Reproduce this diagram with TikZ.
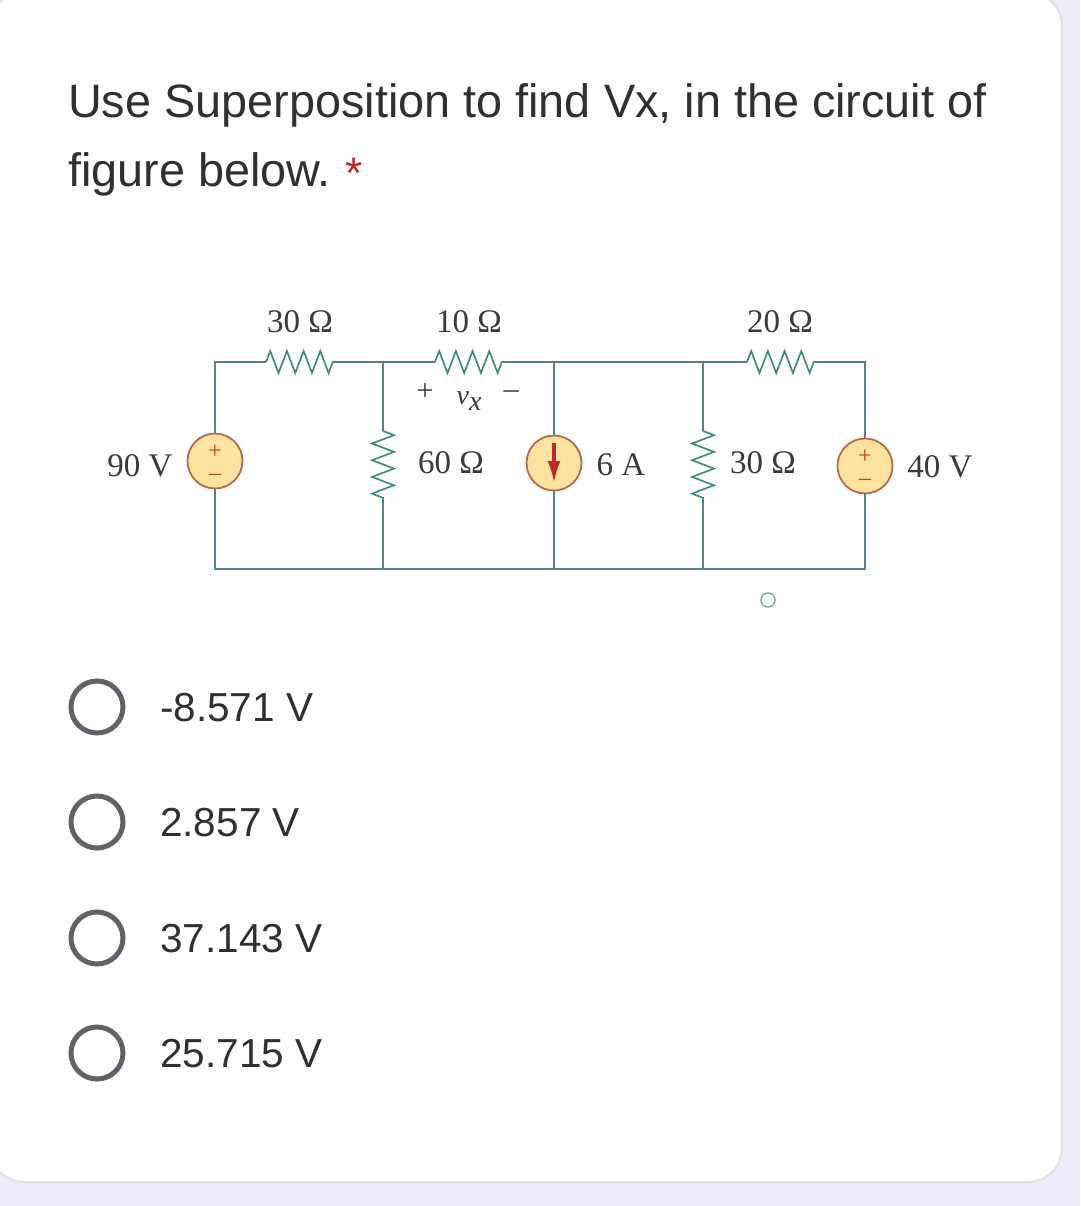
\documentclass[tikz,border=0pt]{standalone}
\usepackage{fontspec}
\setmainfont{Liberation Serif}
\newfontfamily\uifont{Liberation Sans}
\usetikzlibrary{arrows.meta,decorations.pathmorphing}
\definecolor{pagebg}{HTML}{EEEBFA}
\definecolor{cardline}{HTML}{E0DFE4}
\definecolor{wirecol}{HTML}{5B7F88}
\definecolor{rescol}{HTML}{3F8F70}
\definecolor{srcfill}{HTML}{FDE2A0}
\definecolor{srcline}{HTML}{B8694A}
\definecolor{signcol}{HTML}{B5482F}
\definecolor{arrowcol}{HTML}{C0282D}
\definecolor{labelcol}{HTML}{3A3A3A}
\definecolor{radiocol}{HTML}{5F6368}
\definecolor{textcol}{HTML}{2F3033}
\tikzstyle{card} = [draw=cardline, line width=2pt, fill=white, rounded corners=34pt]
\tikzstyle{wire} = [draw=wirecol, line width=1.6pt]
\tikzstyle{resistor} = [draw=rescol, line width=1.7pt, decorate,
  decoration={zigzag, segment length=16.7pt, amplitude=11pt}]
\tikzstyle{source} = [circle, draw=srcline, line width=1.8pt, fill=srcfill,
  minimum size=55pt, inner sep=0pt]
\tikzstyle{sign} = [inner sep=0pt, text=signcol, font=\fontsize{24}{24}\selectfont]
\tikzstyle{current} = [draw=arrowcol, line width=3.5pt, -{Latex[length=22pt,width=13pt]}]
\tikzstyle{value} = [inner sep=0pt, text=labelcol, font=\fontsize{33}{36}\selectfont]
\tikzstyle{polarity} = [inner sep=0pt, text=labelcol, font=\fontsize{30}{30}\selectfont]
\tikzstyle{question} = [inner sep=0pt, anchor=base west, text=textcol,
  font=\uifont\fontsize{46.8}{50}\selectfont]
\tikzstyle{answer} = [inner sep=0pt, anchor=base west, text=textcol,
  font=\uifont\fontsize{40.5}{44}\selectfont]
\tikzstyle{radio} = [circle, draw=radiocol, line width=5pt, minimum size=52pt, inner sep=0pt]
\begin{document}
\begin{tikzpicture}[x=1pt, y=-1pt, node distance=40pt]
    \clip (0,0) rectangle (1080,1206);
    \fill[pagebg] (0,0) rectangle (1080,1206);
    \path[card] (-10,-8) rectangle (1062,1182);

    \node[question] (line1) at (68,118) {Use Superposition to find Vx, in the circuit of};
    \node[question] (line2) at (68,187) {figure below.};
    \node[inner sep=0pt, text=arrowcol, font=\uifont\fontsize{44}{44}\selectfont] (star) at (354,173) {*};

    \coordinate (tl) at (215,362);
    \coordinate (bl) at (215,569);
    \coordinate (tm) at (383,362);
    \coordinate (bm) at (383,569);
    \coordinate (ts) at (554,362);
    \coordinate (bs) at (554,569);
    \coordinate (tn) at (703,362);
    \coordinate (bn) at (703,569);
    \coordinate (tr) at (865,362);
    \coordinate (br) at (865,569);

    \coordinate (r30a) at (266,362);
    \coordinate (r30b) at (333,362);
    \coordinate (r10a) at (435,362);
    \coordinate (r10b) at (502,362);
    \coordinate (r20a) at (747,362);
    \coordinate (r20b) at (814,362);
    \coordinate (r60a) at (383,431);
    \coordinate (r60b) at (383,498);
    \coordinate (r3a) at (703,431);
    \coordinate (r3b) at (703,498);

    \node[source] (vs90) at (215,461) {};
    \node[source] (is6) at (554,463) {};
    \node[source] (vs40) at (865,466) {};

    \node[sign, above of=vs90, node distance=9pt] (vs90p) {+};
    \node[sign, below of=vs90, node distance=16pt] (vs90m) {--};
    \node[sign, above of=vs40, node distance=9pt] (vs40p) {+};
    \node[sign, below of=vs40, node distance=16pt] (vs40m) {--};
    \coordinate[above of=is6, node distance=20pt] (is6a);
    \coordinate[below of=is6, node distance=20pt] (is6b);
    \path[current] (is6a) -- (is6b);

    \node[value] (l30) at (300,322) {30 Ω};
    \node[value] (l10) at (469,322) {10 Ω};
    \node[value] (l20) at (780,322) {20 Ω};
    \node[value] (l60) at (451,463) {60 Ω};
    \node[value] (l3) at (763,463) {30 Ω};
    \node[value] (l90) at (140,466) {90 V};
    \node[value] (l6) at (621,465) {6 A};
    \node[value] (l40) at (940,467) {40 V};
    \node[polarity] (vxp) at (425,392) {+};
    \node[polarity] (vxm) at (511,395) {--};
    \node[inner sep=0pt, text=labelcol, font=\fontsize{28}{30}\selectfont\itshape] (vx) at (469,401) {v\raisebox{-6pt}{x}};

    \path[resistor] (r30a) -- (r30b);
    \path[resistor] (r10a) -- (r10b);
    \path[resistor] (r20a) -- (r20b);
    \path[resistor] (r60a) -- (r60b);
    \path[resistor] (r3a) -- (r3b);

    \path[wire] (vs90) -- (tl) -- (r30a);
    \path[wire] (r30b) -- (tm) -- (r10a);
    \path[wire] (r10b) -- (ts) -- (tn) -- (r20a);
    \path[wire] (r20b) -- (tr) -- (vs40);
    \path[wire] (vs90) -- (bl) -- (br) -- (vs40);
    \path[wire] (tm) -- (r60a);
    \path[wire] (r60b) -- (bm);
    \path[wire] (ts) -- (is6);
    \path[wire] (is6) -- (bs);
    \path[wire] (tn) -- (r3a);
    \path[wire] (r3b) -- (bn);

    \node[circle, draw=wirecol!70, line width=1.5pt, minimum size=14pt, inner sep=0pt] (mark) at (768,600) {};

    \node[radio] (o1) at (97,707) {};
    \node[radio] (o2) at (97,822) {};
    \node[radio] (o3) at (97,938) {};
    \node[radio] (o4) at (97,1053) {};
    \node[answer] (a1) at (160,721) {-8.571 V};
    \node[answer] (a2) at (160,836) {2.857 V};
    \node[answer] (a3) at (160,952) {37.143 V};
    \node[answer] (a4) at (160,1067) {25.715 V};
  \end{tikzpicture}
\end{document}
